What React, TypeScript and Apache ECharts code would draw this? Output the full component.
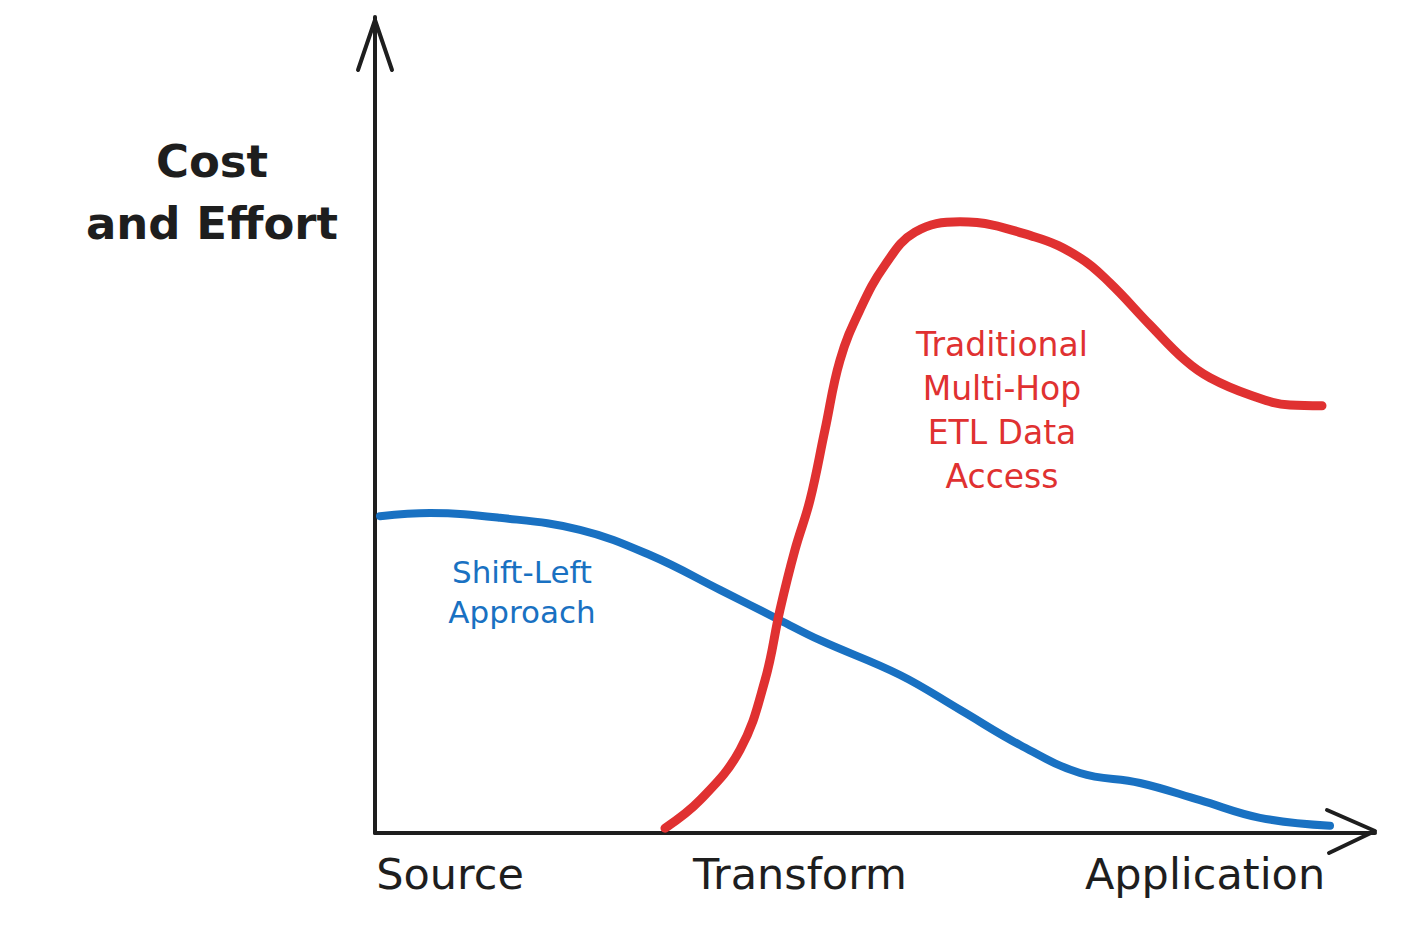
import React, { useEffect, useRef } from "react";
import * as echarts from "echarts";

// Stage position along the pipeline (0 = source, 100 = application)
const shiftLeftX = [0.5, 5.5, 12.5, 20.5, 27.5, 34.5, 40.5, 44.5, 52.5, 58.5, 64.5, 70.5, 76.5, 82.5, 88.5, 95.5];
const shiftLeftY = [39.6, 40, 39.4, 37.9, 34.75, 30.4, 26.6, 24.1, 19.75, 15.4, 11, 7.5, 6.25, 4.1, 1.9, 0.9];

const traditionalX = [29, 32.5, 36.5, 39, 40.5, 42, 43.5, 45, 46.5, 48.5, 51, 54, 58.5, 66, 70.5, 73.5, 77.5, 81, 83.5, 87.5, 91.5, 94.7];
const traditionalY = [0.6, 4.1, 10.4, 19.1, 27.9, 35.4, 41.6, 50.4, 59.1, 65.4, 71, 75.1, 76.4, 74.5, 71.9, 68.75, 63.5, 59.1, 56.9, 54.75, 53.5, 53.4];

const stageTicks = [7.5, 42.5, 83];
const stageLabels = ["Source", "Transform", "Application"];

const yTitle = "Cost\nand Effort";
const redLabel = "Traditional\nMulti-Hop\nETL Data\nAccess";
const blueLabel = "Shift-Left\nApproach";

const INK = "#1e1e1e";
const RED = "#e03131";
const BLUE = "#1971c2";
const FONT = "'DejaVu Sans', 'Noto Sans', sans-serif";

export default function App() {
  const ref = useRef<HTMLDivElement>(null);
  useEffect(() => {
    document.body.style.margin = "0";
    const chart = echarts.init(ref.current!, null, { renderer: "svg" });
    const pair = (xs: number[], ys: number[]) => xs.map((x, i) => [x, ys[i]]);
    chart.setOption({
      animation: false,
      backgroundColor: "#ffffff",
      grid: { left: 375, right: 42, top: 17, bottom: 95 },
      xAxis: {
        type: "value",
        min: 0,
        max: 100,
        splitLine: { show: false },
        axisTick: { show: false },
        axisLine: { show: true, onZero: false, lineStyle: { color: INK, width: 4, cap: "round" } },
        axisLabel: {
          customValues: stageTicks,
          formatter: (v: number) => {
            const i = stageTicks.indexOf(v);
            return i >= 0 ? stageLabels[i] : "";
          },
          color: INK,
          fontSize: 43,
          fontFamily: FONT,
          margin: 19,
        },
      },
      yAxis: {
        type: "value",
        min: 0,
        max: 102,
        splitLine: { show: false },
        axisTick: { show: false },
        axisLabel: { show: false },
        axisLine: { show: true, onZero: false, lineStyle: { color: INK, width: 4, cap: "round" } },
      },
      series: [
        {
          name: "Shift-Left Approach",
          type: "line",
          smooth: 0.4,
          showSymbol: false,
          data: pair(shiftLeftX, shiftLeftY),
          lineStyle: { color: BLUE, width: 8, cap: "round", join: "round" },
          z: 3,
        },
        {
          name: "Traditional Multi-Hop ETL Data Access",
          type: "line",
          smooth: 0.4,
          showSymbol: false,
          data: pair(traditionalX, traditionalY),
          lineStyle: { color: RED, width: 9, cap: "round", join: "round" },
          z: 4,
        },
      ],
      graphic: [
        {
          type: "polyline",
          shape: { points: [[358, 70], [375, 20], [392, 70]] },
          style: { stroke: INK, lineWidth: 4, fill: "none", lineCap: "round", lineJoin: "round" },
          z: 10,
        },
        {
          type: "polyline",
          shape: { points: [[1327, 810], [1375, 831], [1329, 853]] },
          style: { stroke: INK, lineWidth: 4, fill: "none", lineCap: "round", lineJoin: "round" },
          z: 10,
        },
        {
          type: "text",
          x: 212,
          y: 192,
          style: {
            text: yTitle,
            fill: INK,
            font: `bold 45px ${FONT}`,
            align: "center",
            verticalAlign: "middle",
            lineHeight: 62,
          },
        },
        {
          type: "text",
          x: 1002,
          y: 410,
          style: {
            text: redLabel,
            fill: RED,
            font: `33px ${FONT}`,
            align: "center",
            verticalAlign: "middle",
            lineHeight: 44,
          },
        },
        {
          type: "text",
          x: 522,
          y: 592,
          style: {
            text: blueLabel,
            fill: BLUE,
            font: `31px ${FONT}`,
            align: "center",
            verticalAlign: "middle",
            lineHeight: 40,
          },
        },
      ],
    });
    return () => chart.dispose();
  }, []);
  return <div ref={ref} style={{ width: 1417, height: 928 }} />;
}
